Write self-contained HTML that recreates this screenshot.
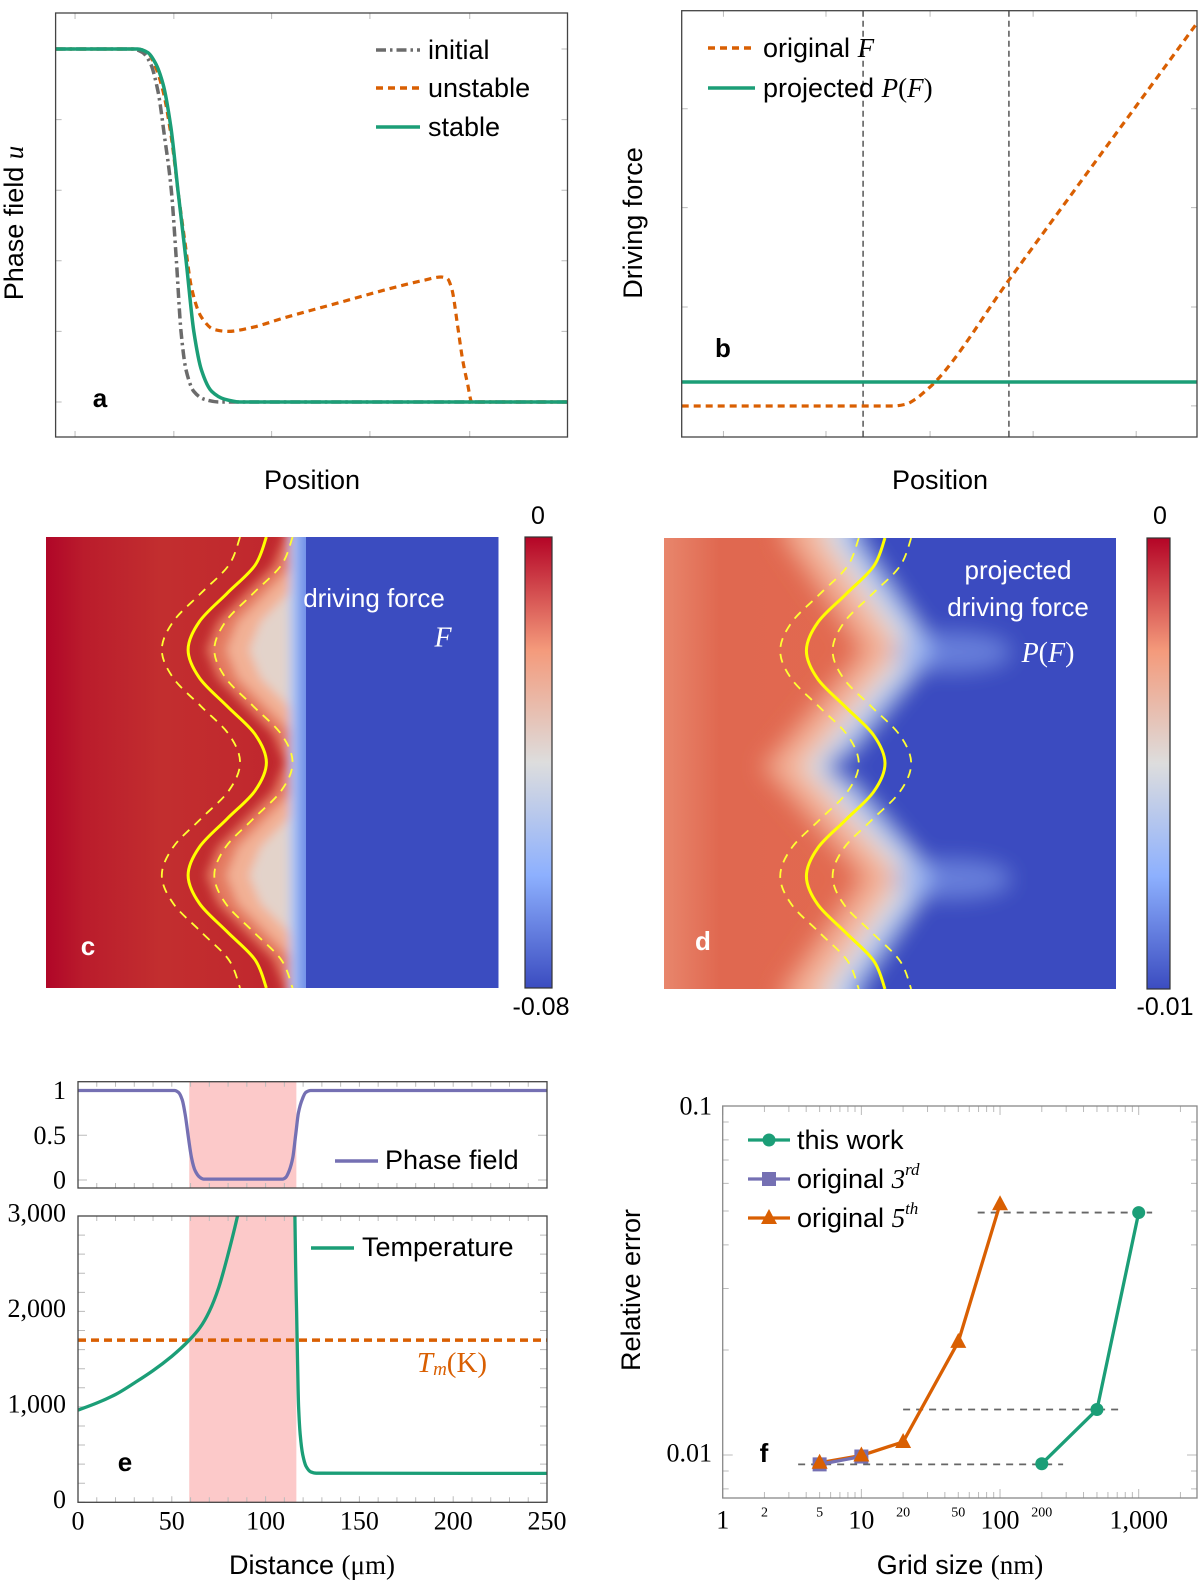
<!DOCTYPE html>
<html><head><meta charset="utf-8"><title>Figure</title>
<style>
html,body{margin:0;padding:0;background:#fff;}
svg{display:block;}
.sans{font-family:"Liberation Sans","DejaVu Sans",sans-serif;}
.serif{font-family:"Liberation Serif","DejaVu Serif",serif;}
</style></head>
<body>
<svg id="fig" xmlns="http://www.w3.org/2000/svg" width="1200" height="1585" viewBox="0 0 1200 1585">
<defs>
<linearGradient id="cbar" x1="0" y1="1" x2="0" y2="0">
<stop offset="0" stop-color="#3b4cc0"/><stop offset="0.25" stop-color="#8db0fe"/><stop offset="0.5" stop-color="#dddddd"/><stop offset="0.75" stop-color="#f49a7b"/><stop offset="1" stop-color="#b40426"/>
</linearGradient>
<linearGradient id="cbase" x1="46" y1="0" x2="300" y2="0" gradientUnits="userSpaceOnUse">
<stop offset="0" stop-color="#b00628"/><stop offset="0.15" stop-color="#ba1c2c"/><stop offset="0.45" stop-color="#c22e2f"/><stop offset="1" stop-color="#c0262d"/>
</linearGradient>
<linearGradient id="dbase" x1="664" y1="0" x2="850" y2="0" gradientUnits="userSpaceOnUse">
<stop offset="0" stop-color="#e8866c"/><stop offset="0.3" stop-color="#e06850"/><stop offset="1" stop-color="#e2694f"/>
</linearGradient>
<filter id="blurS" x="-20%" y="-20%" width="140%" height="140%"><feGaussianBlur stdDeviation="5"/></filter>
<filter id="blurL" x="-20%" y="-20%" width="140%" height="140%"><feGaussianBlur stdDeviation="11"/></filter>
<clipPath id="clipA"><rect x="55.6" y="13" width="511.9" height="424"/></clipPath>
<clipPath id="clipB"><rect x="681.7" y="10.7" width="515.3" height="426.3"/></clipPath>
<clipPath id="clipC"><rect x="46" y="537" width="452.5" height="451"/></clipPath>
<clipPath id="clipD"><rect x="664" y="538" width="452" height="451"/></clipPath>
<clipPath id="clipE1"><rect x="78" y="1081.7" width="469" height="106.3"/></clipPath>
<clipPath id="clipE2"><rect x="78" y="1216" width="469" height="286.3"/></clipPath>
</defs>
</svg>
<script>
// ---------- panel a data ----------
const aStableX=[0,16,18,19.5,21,22.5,23.9,25.5,27,28.5,30.5,33,36,100];
const aStableY=[1,1,0.99,0.96,0.9,0.78,0.6,0.4,0.2,0.09,0.03,0.008,0,0];
const aInitialX=[0,15,17,18.5,20,21.3,22.6,23.6,24.5,25.5,27,29,32,100];
const aInitialY=[1,1,0.99,0.96,0.88,0.75,0.6,0.4,0.2,0.09,0.03,0.008,0,0];
const aUnstableX=[0,16,18,19.5,21,22.5,23.9,25.3,26.6,28.5,31,33.7,38,45,55,65,72,75.3,76.5,77.4,78.5,79.5,80.5,81.3,100];
const aUnstableY=[1,1,0.99,0.95,0.88,0.76,0.6,0.45,0.32,0.24,0.205,0.2,0.21,0.24,0.28,0.32,0.345,0.354,0.35,0.32,0.22,0.12,0.05,0,0];
const aTicksX=[3.8,23.1,42.2,61.4,80.9];
const aTicksY=[0,0.2,0.4,0.6,0.8,1];
// ---------- panel b data ----------
const bOrigX=[0,41,43.5,45.5,47.5,49.2,63.5,100];
const bOrigY=[7.27,7.27,7.7,9,11,12.9,36.8,97.1];
const bProjX=[0,100];
const bProjY=[12.9,12.9];
const bRefX=[35.2,63.5];
const bTicksX=[8.1,28,48.2,68.2,88.2];
const bTicksY=[7.3,30.5,53.8,77];
// ---------- panels c,d interface ----------
const ifaceT=[0,6.25,12.5,18.75,25,31.25,37.5,43.75,50,56.25,62.5,68.75,75,81.25,87.5,93.75,100];
const ifaceC=[48.7,46.2,40.0,33.9,31.4,33.9,40.0,46.2,48.7,46.2,40.0,33.9,31.4,33.9,40.0,46.2,48.7];
const ifaceD=[48.9,46.4,40.2,34.0,31.5,34.0,40.2,46.4,48.9,46.4,40.2,34.0,31.5,34.0,40.2,46.4,48.9];
const dashOffset=5.8;
// ---------- panel e data ----------
const ePhaseX=[0,51.5,53.5,55.5,57,58.7,60.5,62.5,65,67,109,110.8,112.5,114.5,116,117.5,119.5,121.5,124,250];
const ePhaseY=[1,1,0.98,0.9,0.75,0.5,0.25,0.1,0.03,0.01,0.01,0.03,0.1,0.25,0.5,0.75,0.9,0.98,1,1];
const eTempX=[0,10,20,30,40,50,59.3,65,70,75,80,85,88];
const eTempY=[966,1040,1130,1250,1380,1530,1699,1830,2000,2250,2600,3000,3300];
const eTemp2X=[115.3,115.6,116,116.5,117,117.6,118.5,119.8,121.5,124,127,250];
const eTemp2Y=[3300,3000,2500,2000,1500,1000,700,500,380,320,305,303];
const eBand=[59.3,116.4];
const eTm=1700;
const eTicksX=[0,50,100,150,200,250];
const eTickLabelsX=['0','50','100','150','200','250'];
const eTicksTop=[0,0.5,1];
const eTickLabelsTop=['0','0.5','1'];
const eTicksBot=[0,1000,2000,3000];
const eTickLabelsBot=['0','1,000','2,000','3,000'];
// ---------- panel f data ----------
const fGridThis=[200,500,1000];
const fErrThis=[0.00944,0.0135,0.0495];
const fGrid3=[5,10];
const fErr3=[0.0094,0.0099];
const fGrid5=[5,10,20,50,100];
const fErr5=[0.0095,0.00997,0.0109,0.0211,0.0523];
const fRefErr=[0.0495,0.0135,0.0094];
const fRefFrom=[69,20,3.5];
const fRefTo=[1250,760,285];
const fMajorX=[1,10,100,1000];
const fMajorLabels=['1','10','100','1,000'];
const fMinorLabX=[2,5,20,50,200];
const fMinorLab=['2','5','20','50','200'];

const NS='http://www.w3.org/2000/svg';
const svg=document.getElementById('fig');
function mk(tag,attrs,parent){const e=document.createElementNS(NS,tag);for(const k in attrs)e.setAttribute(k,attrs[k]);(parent||svg).appendChild(e);return e;}
function lin(d0,d1,r0,r1){return v=>r0+(v-d0)/(d1-d0)*(r1-r0);}
function logsc(d0,d1,r0,r1){const a=Math.log10(d0),b=Math.log10(d1);return v=>r0+(Math.log10(v)-a)/(b-a)*(r1-r0);}
function poly(xs,ys,sx,sy){return xs.map((x,i)=>(i?'L':'M')+sx(x).toFixed(1)+','+sy(ys[i]).toFixed(1)).join('');}
// catmull-rom (for parametric curves)
function smooth(xs,ys,sx,sy){
  const p=xs.map((x,i)=>[sx(x),sy(ys[i])]);
  let d='M'+p[0][0].toFixed(1)+','+p[0][1].toFixed(1);
  for(let i=0;i<p.length-1;i++){
    const p0=p[i-1]||p[i],p1=p[i],p2=p[i+1],p3=p[i+2]||p2;
    const c1=[p1[0]+(p2[0]-p0[0])/6,p1[1]+(p2[1]-p0[1])/6];
    const c2=[p2[0]-(p3[0]-p1[0])/6,p2[1]-(p3[1]-p1[1])/6];
    d+='C'+c1[0].toFixed(1)+','+c1[1].toFixed(1)+' '+c2[0].toFixed(1)+','+c2[1].toFixed(1)+' '+p2[0].toFixed(1)+','+p2[1].toFixed(1);
  }
  return d;
}
// monotone cubic (Fritsch-Carlson) for y=f(x) curves, no overshoot
function mono(xs,ys,sx,sy){
  const X=xs.map(sx),Y=ys.map(sy),n=X.length;
  const dl=[],m=new Array(n);
  for(let i=0;i<n-1;i++)dl.push((Y[i+1]-Y[i])/(X[i+1]-X[i]));
  m[0]=dl[0];m[n-1]=dl[n-2];
  for(let i=1;i<n-1;i++){
    if(dl[i-1]*dl[i]<=0)m[i]=0;
    else{const w1=2*(X[i+1]-X[i])+(X[i]-X[i-1]),w2=(X[i+1]-X[i])+2*(X[i]-X[i-1]);m[i]=(w1+w2)/(w1/dl[i-1]+w2/dl[i]);}
  }
  for(let i=0;i<n-1;i++){if(dl[i]===0){m[i]=0;m[i+1]=0;}}
  let d='M'+X[0].toFixed(1)+','+Y[0].toFixed(1);
  for(let i=0;i<n-1;i++){
    const h=(X[i+1]-X[i])/3;
    d+='C'+(X[i]+h).toFixed(1)+','+(Y[i]+m[i]*h).toFixed(1)+' '+(X[i+1]-h).toFixed(1)+','+(Y[i+1]-m[i+1]*h).toFixed(1)+' '+X[i+1].toFixed(1)+','+Y[i+1].toFixed(1);
  }
  return d;
}
function txt(x,y,s,cls,size,anchor,parent,extra){const t=mk('text',Object.assign({x:x,y:y,'class':cls,'font-size':size,'text-anchor':anchor||'middle','dominant-baseline':'central'},extra||{}),parent);t.textContent=s;return t;}
const GREEN='#1b9e77',ORANGE='#d95f02',PURPLE='#7570b3',GRAY='#666666';

// ================= PANEL A =================
(function(){
const g=mk('g',{});


const sx=lin(0,100,55.6,567.5), sy=lin(0,1,402,49);
aTicksX.forEach(v=>{
  const t=mk('path',{d:'M'+sx(v)+',13v6M'+sx(v)+',437v-6',stroke:'#bbb','stroke-width':1},g);
  
  
});
aTicksY.forEach(v=>{
  const t=mk('path',{d:'M55.6,'+sy(v)+'h6M567.5,'+sy(v)+'h-6',stroke:'#bbb','stroke-width':1},g);
  
  
});
const cg=mk('g',{'clip-path':'url(#clipA)'},g);
const l1=mk('path',{d:mono(aInitialX,aInitialY,sx,sy),fill:'none',stroke:'#6b6b6b','stroke-width':3.5,'stroke-dasharray':'10 4 2.5 4'},cg);


const l2=mk('path',{d:mono(aUnstableX,aUnstableY,sx,sy),fill:'none',stroke:ORANGE,'stroke-width':3.2,'stroke-dasharray':'7 5'},cg);


const l3=mk('path',{d:mono(aStableX,aStableY,sx,sy),fill:'none',stroke:GREEN,'stroke-width':3.5},cg);


const box=mk('rect',{x:55.6,y:13,width:511.9,height:424,fill:'none',stroke:'#444','stroke-width':1.3},g);


const leg=[['initial','#6b6b6b','10 4 2.5 4',50],['unstable',ORANGE,'7 5',88],['stable',GREEN,'',127]];
leg.forEach(e=>{
  const lg=mk('g',{},g);
  
  
  mk('path',{d:'M376,'+e[3]+'H420',stroke:e[1],'stroke-width':3.5,'stroke-dasharray':e[2]||'none'},lg);
  txt(428,e[3],e[0],'sans',27,'start',lg);
});
const la=txt(100,398,'a','sans',26,'middle',g,{'font-weight':'bold'});


const xt=txt(312,480,'Position','sans',27,'middle',g);


const yt=mk('text',{x:0,y:0,transform:'translate(14,223) rotate(-90)','class':'sans','font-size':27,'text-anchor':'middle','dominant-baseline':'central'},g);
yt.innerHTML='Phase field <tspan class="serif" font-style="italic">u</tspan>';


})();

// ================= PANEL B =================
(function(){
const g=mk('g',{});


const sx=lin(0,100,681.7,1197), sy=lin(0,100,437,10.7);
bTicksX.forEach(v=>{
  const t=mk('path',{d:'M'+sx(v)+',10.7v6M'+sx(v)+',437v-6',stroke:'#bbb','stroke-width':1},g);
  
  
});
bTicksY.forEach(v=>{
  const t=mk('path',{d:'M681.7,'+sy(v)+'h6M1197,'+sy(v)+'h-6',stroke:'#bbb','stroke-width':1},g);
  
  
});
const cg=mk('g',{'clip-path':'url(#clipB)'},g);
bRefX.forEach(v=>{
  const r=mk('path',{d:'M'+sx(v)+',10.7V437',stroke:'#555','stroke-width':1.5,'stroke-dasharray':'6 4'},cg);
  
  
});
const o=mk('path',{d:mono(bOrigX,bOrigY,sx,sy),fill:'none',stroke:ORANGE,'stroke-width':3.2,'stroke-dasharray':'7 5'},cg);


const p=mk('path',{d:poly(bProjX,bProjY,sx,sy),fill:'none',stroke:GREEN,'stroke-width':3.5},cg);


const box=mk('rect',{x:681.7,y:10.7,width:515.3,height:426.3,fill:'none',stroke:'#444','stroke-width':1.3},g);


const e1=mk('g',{},g);


mk('path',{d:'M708,48H755',stroke:ORANGE,'stroke-width':3.5,'stroke-dasharray':'7 5'},e1);
const t1=txt(763,48,'','sans',27,'start',e1);
t1.innerHTML='original <tspan class="serif" font-style="italic">F</tspan>';
const e2=mk('g',{},g);


mk('path',{d:'M708,88H755',stroke:GREEN,'stroke-width':3.5},e2);
const t2=txt(763,88,'','sans',27,'start',e2);
t2.innerHTML='projected <tspan class="serif" font-style="italic">P</tspan><tspan class="serif">(</tspan><tspan class="serif" font-style="italic">F</tspan><tspan class="serif">)</tspan>';
const lb=txt(723,348,'b','sans',26,'middle',g,{'font-weight':'bold'});


const xt=txt(940,480,'Position','sans',27,'middle',g);


const yt=mk('text',{x:0,y:0,transform:'translate(633,223) rotate(-90)','class':'sans','font-size':27,'text-anchor':'middle','dominant-baseline':'central'},g);
yt.textContent='Driving force';


})();

// ================= PANELS C, D (heatmaps) =================
function ifacePath(xs,off,sx,sy){return smooth(xs.map(v=>v+off),ifaceT,sx,sy);}
function regionPath(xs,off,cap,sx,sy,right){
  const px=xs.map(v=>Math.min(sx(v+off),cap));
  let d='M'+right+','+(sy(0)-20)+'L'+px[0]+','+(sy(0)-20);
  px.forEach((x,i)=>{d+='L'+x.toFixed(1)+','+sy(ifaceT[i]).toFixed(1);});
  d+='L'+px[px.length-1]+','+(sy(100)+20)+'L'+right+','+(sy(100)+20)+'Z';
  return d;
}
(function(){
const g=mk('g',{});


const sx=lin(0,100,46,498.5), sy=lin(0,100,537,988);
const hm=mk('g',{'clip-path':'url(#clipC)'},g);


mk('rect',{x:46,y:537,width:452.5,height:451,fill:'url(#cbase)'},hm);
const bl=mk('g',{filter:'url(#blurS)'},hm);
mk('path',{d:regionPath(ifaceC,4,292,sx,sy,520),fill:'#e47a60'},bl);
mk('path',{d:regionPath(ifaceC,8.5,294,sx,sy,520),fill:'#f2b094'},bl);
mk('path',{d:regionPath(ifaceC,13.5,296,sx,sy,520),fill:'#e3d3ca'},bl);
mk('rect',{x:290,y:500,width:240,height:520,fill:'#a6c2f7'},bl);
mk('rect',{x:299,y:500,width:240,height:520,fill:'#6f8fe8'},bl);
mk('rect',{x:306,y:500,width:240,height:520,fill:'#3b4cc0'},hm);
const s=mk('path',{d:ifacePath(ifaceC,0,sx,sy),fill:'none',stroke:'#ffff00','stroke-width':3},hm);


[-dashOffset,dashOffset].forEach(o=>{
  const d=mk('path',{d:ifacePath(ifaceC,o,sx,sy),fill:'none',stroke:'#ffff33','stroke-width':1.8,'stroke-dasharray':'9 7'},hm);
  
  
});
const t1=txt(374,598,'driving force','sans',26,'middle',g,{fill:'#fff'});


const t2=txt(443,638,'F','serif',28,'middle',g,{fill:'#fff','font-style':'italic'});


const lc=txt(88,946,'c','sans',26,'middle',g,{fill:'#fff','font-weight':'bold'});


const cb=mk('rect',{x:525,y:537,width:27,height:451,fill:'url(#cbar)',stroke:'#333','stroke-width':1.2},g);


const c0=txt(538,516,'0','sans',25,'middle',g);


const c1=txt(541,1007,'-0.08','sans',25,'middle',g);


})();
(function(){
const g=mk('g',{});


const sx=lin(0,100,664,1116), sy=lin(0,100,538,989);
const hm=mk('g',{'clip-path':'url(#clipD)'},g);


mk('rect',{x:664,y:538,width:452,height:451,fill:'url(#dbase)'},hm);
const bl=mk('g',{filter:'url(#blurL)'},hm);
function zig(dx){
  let d='M1140,500L'+(790+dx)+',500';
  const pts=[[538,790],[650,868],[767,770],[877,868],[989,790]];
  pts.forEach(p=>{d+='L'+(p[1]+dx)+','+p[0];});
  return d+'L'+(790+dx)+',1030L1140,1030Z';
}
mk('path',{d:zig(-10),fill:'#ec9a80'},bl);
mk('path',{d:zig(8),fill:'#f4b69c'},bl);
mk('path',{d:zig(32),fill:'#dcdcdc'},bl);
mk('path',{d:zig(50),fill:'#a9c4f6'},bl);
mk('path',{d:zig(66),fill:'#3b4cc0'},bl);
mk('ellipse',{cx:950,cy:652,rx:60,ry:18,fill:'#8eaaf0','fill-opacity':0.55},bl);
mk('ellipse',{cx:950,cy:879,rx:60,ry:18,fill:'#8eaaf0','fill-opacity':0.55},bl);
mk('ellipse',{cx:852,cy:767,rx:22,ry:14,fill:'#3b4cc0'},bl);
const s=mk('path',{d:ifacePath(ifaceD,0,sx,sy),fill:'none',stroke:'#ffff00','stroke-width':3},hm);


[-dashOffset,dashOffset].forEach(o=>{
  const d=mk('path',{d:ifacePath(ifaceD,o,sx,sy),fill:'none',stroke:'#ffff33','stroke-width':1.8,'stroke-dasharray':'9 7'},hm);
  
  
});
const t1=txt(1018,570,'projected','sans',26,'middle',g,{fill:'#fff'});


const t1b=txt(1018,607,'driving force','sans',26,'middle',g,{fill:'#fff'});


const t2=txt(1048,653,'','serif',28,'middle',g,{fill:'#fff'});
t2.innerHTML='<tspan font-style="italic">P</tspan>(<tspan font-style="italic">F</tspan>)';


const ld=txt(703,941,'d','sans',26,'middle',g,{fill:'#fff','font-weight':'bold'});


const cb=mk('rect',{x:1147,y:538,width:23,height:451,fill:'url(#cbar)',stroke:'#333','stroke-width':1.2},g);


const c0=txt(1160,516,'0','sans',25,'middle',g);


const c1=txt(1165,1007,'-0.01','sans',25,'middle',g);


})();

// ================= PANEL E =================
(function(){
const g=mk('g',{});


const sx=lin(0,250,78,547), syT=lin(0,1,1180,1090.5), syB=lin(0,3000,1502.3,1216);
const b1=mk('rect',{x:sx(eBand[0]),y:1081.7,width:sx(eBand[1])-sx(eBand[0]),height:106.3,fill:'#fcc9c9'},g);


const b2=mk('rect',{x:sx(eBand[0]),y:1216,width:sx(eBand[1])-sx(eBand[0]),height:286.3,fill:'#fcc9c9'},g);


for(let v=0;v<=250;v+=10){
  const big=v%50===0;
  const t=mk('path',{d:'M'+sx(v)+',1081.7v5M'+sx(v)+',1188v-5M'+sx(v)+',1216v5M'+sx(v)+',1502.3v'+(big?-6:-5),stroke:'#bbb','stroke-width':1},g);
  
  
}
eTicksTop.forEach((v,i)=>{
  const t=mk('path',{d:'M78,'+syT(v)+'h9M547,'+syT(v)+'h-9',stroke:'#bbb','stroke-width':1},g);
  
  
  const l=txt(66,syT(v),eTickLabelsTop[i],'serif',26,'end',g);
  
  
});
for(let v=0;v<=3000;v+=200){
  const t=mk('path',{d:'M78,'+syB(v)+'h7M547,'+syB(v)+'h-7',stroke:'#bbb','stroke-width':1},g);
  
  
}
eTicksBot.forEach((v,i)=>{
  const l=txt(66,syB(v)-3,eTickLabelsBot[i],'serif',26,'end',g);
  
  
});
eTicksX.forEach((v,i)=>{
  const l=txt(sx(v),1521,eTickLabelsX[i],'serif',26,'middle',g);
  
  
});
const c1=mk('g',{'clip-path':'url(#clipE1)'},g);
const ph=mk('path',{d:mono(ePhaseX,ePhaseY,sx,syT),fill:'none',stroke:PURPLE,'stroke-width':3.3},c1);


const c2=mk('g',{'clip-path':'url(#clipE2)'},g);
const tm=mk('path',{d:'M78,'+syB(eTm)+'H547',stroke:ORANGE,'stroke-width':3.5,'stroke-dasharray':'8 5'},c2);


const t1=mk('path',{d:mono(eTempX,eTempY,sx,syB),fill:'none',stroke:GREEN,'stroke-width':3.3},c2);


const t2=mk('path',{d:mono(eTemp2X,eTemp2Y,sx,syB),fill:'none',stroke:GREEN,'stroke-width':3.3},c2);


const f1=mk('rect',{x:78,y:1081.7,width:469,height:106.3,fill:'none',stroke:'#444','stroke-width':1.3},g);


const f2=mk('rect',{x:78,y:1216,width:469,height:286.3,fill:'none',stroke:'#444','stroke-width':1.3},g);


const lg1=mk('g',{},g);


mk('path',{d:'M335,1161H378',stroke:PURPLE,'stroke-width':3.5},lg1);
txt(385,1160,'Phase field','sans',27,'start',lg1);
const lg2=mk('g',{},g);


mk('path',{d:'M311,1248H354',stroke:GREEN,'stroke-width':3.5},lg2);
txt(362,1247,'Temperature','sans',27,'start',lg2);
const tl=txt(452,1363,'','serif',29,'middle',g,{fill:ORANGE});
tl.innerHTML='<tspan font-style="italic">T</tspan><tspan font-style="italic" font-size="19" dy="6">m</tspan><tspan dy="-6">(K)</tspan>';


const le=txt(125,1462,'e','sans',26,'middle',g,{'font-weight':'bold'});


const xt=txt(312,1565,'','sans',27,'middle',g);
xt.innerHTML='Distance <tspan class="serif">(μm)</tspan>';


})();

// ================= PANEL F =================
(function(){
const g=mk('g',{});


const X0=722.7,X1=1197,Y0=1106,Y1=1498;
const sx=logsc(1,1000,722.7,1138.7), sy=logsc(0.01,0.1,1455,1106);
for(let dec=1;dec<=1000;dec*=10){
  for(let m=1;m<10;m++){
    const v=dec*m; const x=sx(v); if(x>X1)continue;
    const len=m===1?9:6;
    const t=mk('path',{d:'M'+x+','+Y0+'v'+len+'M'+x+','+Y1+'v-'+len,stroke:'#bbb','stroke-width':1},g);
    
    
  }
}
[0.008,0.009,0.01,0.02,0.03,0.04,0.05,0.06,0.07,0.08,0.09].forEach(v=>{
  const y=sy(v); const len=v===0.01?10:6;
  const t=mk('path',{d:'M'+X0+','+y+'h'+len+'M'+X1+','+y+'h-'+len,stroke:'#bbb','stroke-width':1},g);
  
  
});
fRefErr.forEach((v,i)=>{
  const r=mk('path',{d:'M'+sx(fRefFrom[i])+','+sy(v)+'H'+sx(fRefTo[i]),stroke:GRAY,'stroke-width':1.8,'stroke-dasharray':'7 6'},g);
  
  
});
const l5=mk('path',{d:poly(fGrid5,fErr5,sx,sy),fill:'none',stroke:ORANGE,'stroke-width':3.3},g);


const l3=mk('path',{d:poly(fGrid3,fErr3,sx,sy),fill:'none',stroke:PURPLE,'stroke-width':3.3},g);


fGrid3.forEach((v,i)=>{
  const m=mk('rect',{x:sx(v)-7,y:sy(fErr3[i])-7,width:14,height:14,fill:PURPLE},g);
  
  
});
fGrid5.forEach((v,i)=>{
  const x=sx(v),y=sy(fErr5[i]);
  const m=mk('path',{d:'M'+x+','+(y-9)+'L'+(x+8)+','+(y+6)+'L'+(x-8)+','+(y+6)+'Z',fill:ORANGE},g);
  
  
});
const lt=mk('path',{d:poly(fGridThis,fErrThis,sx,sy),fill:'none',stroke:GREEN,'stroke-width':3.3},g);


fGridThis.forEach((v,i)=>{
  const m=mk('circle',{cx:sx(v),cy:sy(fErrThis[i]),r:6.5,fill:GREEN},g);
  
  
});
const fr=mk('rect',{x:X0,y:Y0,width:X1-X0,height:Y1-Y0,fill:'none',stroke:'#888','stroke-width':1.3},g);


fMajorX.forEach((v,i)=>{
  const l=txt(sx(v),1520,fMajorLabels[i],'serif',26,'middle',g);
  
  
});
fMinorLabX.forEach((v,i)=>{
  const l=txt(sx(v),1513,fMinorLab[i],'serif',14,'middle',g);
  
  
});
const y1=txt(712,1106,'0.1','serif',26,'end',g);


const y2=txt(712,1453,'0.01','serif',26,'end',g);


const e1=mk('g',{},g);


mk('path',{d:'M748,1140H790',stroke:GREEN,'stroke-width':3.3},e1);
mk('circle',{cx:769,cy:1140,r:6.5,fill:GREEN},e1);
txt(797,1140,'this work','sans',27,'start',e1);
const e2=mk('g',{},g);


mk('path',{d:'M748,1179H790',stroke:PURPLE,'stroke-width':3.3},e2);
mk('rect',{x:762,y:1172,width:14,height:14,fill:PURPLE},e2);
const t2=txt(797,1179,'','sans',27,'start',e2);
t2.innerHTML='original <tspan class="serif" font-style="italic">3</tspan><tspan class="serif" font-style="italic" font-size="17" dy="-10">rd</tspan>';
const e3=mk('g',{},g);


mk('path',{d:'M748,1218H790',stroke:ORANGE,'stroke-width':3.3},e3);
mk('path',{d:'M769,1209L777,1224L761,1224Z',fill:ORANGE},e3);
const t3=txt(797,1218,'','sans',27,'start',e3);
t3.innerHTML='original <tspan class="serif" font-style="italic">5</tspan><tspan class="serif" font-style="italic" font-size="17" dy="-10">th</tspan>';
const lf=txt(764,1453,'f','sans',26,'middle',g,{'font-weight':'bold'});


const xt=txt(960,1565,'','sans',27,'middle',g);
xt.innerHTML='Grid size <tspan class="serif">(nm)</tspan>';


const yt=mk('text',{x:0,y:0,transform:'translate(631,1290) rotate(-90)','class':'sans','font-size':27,'text-anchor':'middle','dominant-baseline':'central'},g);
yt.textContent='Relative error';


})();
</script>
</body></html>
